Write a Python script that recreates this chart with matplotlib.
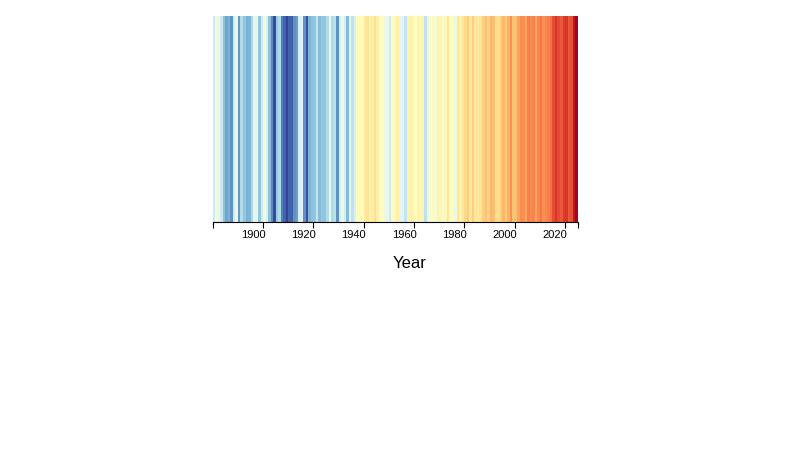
import numpy as np
import matplotlib
matplotlib.use("Agg")
import matplotlib.pyplot as plt
from matplotlib.colors import TwoSlopeNorm
from matplotlib.transforms import ScaledTranslation

# annual temperature anomaly (deg C), 1880-2024
years = list(range(1880, 2025))
anomaly = [
    -0.17, -0.09, -0.11, -0.17, -0.28, -0.33, -0.31, -0.36, -0.17, -0.10,
    -0.35, -0.22, -0.27, -0.31, -0.30, -0.23, -0.11, -0.11, -0.27, -0.17,
    -0.08, -0.15, -0.28, -0.37, -0.47, -0.26, -0.22, -0.39, -0.43, -0.48,
    -0.43, -0.44, -0.36, -0.34, -0.15, -0.14, -0.36, -0.46, -0.30, -0.28,
    -0.27, -0.19, -0.29, -0.27, -0.27, -0.22, -0.11, -0.22, -0.20, -0.36,
    -0.16, -0.10, -0.16, -0.29, -0.13, -0.20, -0.15, -0.03, -0.00, -0.02,
    0.13, 0.19, 0.07, 0.09, 0.20, 0.09, -0.07, -0.03, -0.11, -0.11,
    -0.17, -0.07, 0.01, 0.08, -0.13, -0.14, -0.19, 0.05, 0.06, 0.03,
    -0.03, 0.06, 0.03, 0.05, -0.20, -0.11, -0.06, -0.02, -0.08, 0.05,
    0.03, -0.08, 0.01, 0.16, -0.07, -0.01, -0.10, 0.18, 0.07, 0.16,
    0.26, 0.32, 0.14, 0.31, 0.16, 0.12, 0.18, 0.32, 0.39, 0.27,
    0.45, 0.40, 0.22, 0.23, 0.31, 0.44, 0.33, 0.46, 0.61, 0.38,
    0.39, 0.54, 0.63, 0.62, 0.53, 0.68, 0.64, 0.66, 0.54, 0.65,
    0.72, 0.61, 0.65, 0.68, 0.75, 0.90, 1.01, 0.92, 0.85, 0.98,
    1.01, 0.85, 0.89, 1.17, 1.28,
]
label_years = [1900, 1920, 1940, 1960, 1980, 2000, 2020]
tick_years = [1880, 1900, 1920, 1940, 1960, 1980, 2000, 2020, 2025]

fig = plt.figure(figsize=(8, 4.5), dpi=100)
ax = fig.add_axes([0.266, 0.507, 0.456, 0.458])

norm = TwoSlopeNorm(vmin=-0.5, vcenter=-0.05, vmax=1.3)
cmap = plt.get_cmap("RdYlBu_r")
ax.bar(years, [1] * len(years), width=1.0, align="edge",
       color=cmap(norm(np.array(anomaly))), linewidth=0)

ax.set_xlim(1880, 2025)
ax.set_ylim(0, 1)
ax.set_yticks([])
for s in ["top", "left", "right"]:
    ax.spines[s].set_visible(False)
ax.spines["bottom"].set_linewidth(0.8)

ax.set_xticks(tick_years)
ax.set_xticklabels([""] * len(tick_years))
ax.tick_params(axis="x", length=4, width=0.8)
shift = ScaledTranslation(-10 / 100, 0, fig.dpi_scale_trans)
for y in label_years:
    ax.text(y, -0.04, str(y), transform=ax.get_xaxis_transform() + shift,
            ha="center", va="top", fontsize=8, family="Liberation Sans")

fig.text(410 / 800, 1 - 264 / 450, "Year", ha="center", va="center",
         fontsize=12, family="Liberation Sans")

fig.savefig("out.png", dpi=100)
